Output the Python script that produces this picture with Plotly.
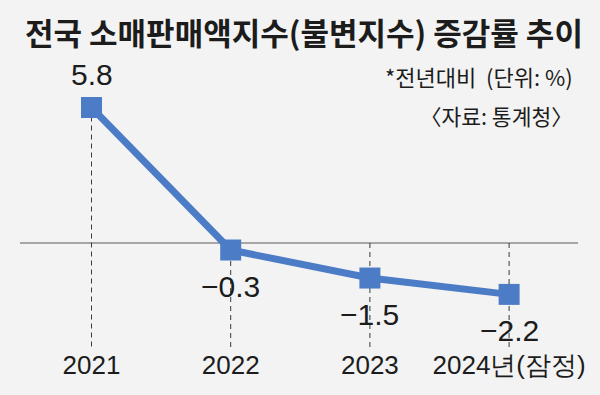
import plotly.graph_objects as go

# ---- data ----
years = ["2021", "2022", "2023", "2024"]
tick_labels = ["2021", "2022", "2023", "2024년(잠정)"]
growth = [5.8, -0.3, -1.5, -2.2]
value_labels = ["5.8", "−0.3", "−1.5", "−2.2"]

title_text = "전국 소매판매액지수(불변지수) 증감률 추이"
note_text = "*전년대비 \u00a0(단위: %)"
source_text = "〈자료: 통계청〉"

# ---- style ----
W, H = 600, 395
BOTTOM = 347          # px of plot-area bottom
BG = "#f3f3f3"
BLUE = "#4d7cc7"
INK = "#1c1c1c"
NUM_FONT = "Liberation Sans Narrow, Liberation Sans, Arial, sans-serif"
KR_FONT = "Noto Sans CJK KR, sans-serif"

x0_px, dx_px = 91.5, 139.2
zero_px, per_unit = 243.0, 23.36

xs = list(range(len(years)))
x_range = [-x0_px / dx_px, (W - x0_px) / dx_px]
y_range = [-(BOTTOM - zero_px) / per_unit, zero_px / per_unit]

def py(px):
    return (BOTTOM - px) / BOTTOM

fig = go.Figure()

# dashed guide lines
for x, v in zip(xs, growth):
    fig.add_shape(type="line", xref="x", yref="y", x0=x, x1=x,
                  y0=max(v, 0), y1=y_range[0], layer="below",
                  line=dict(color="#3a3a3a", width=1, dash="5px,4px"))

# zero line
fig.add_shape(type="line", xref="paper", yref="y", x0=20 / W, x1=578 / W,
              y0=0, y1=0, layer="below", line=dict(color="#5a5a5a", width=1.2))

fig.add_trace(go.Scatter(
    x=xs, y=growth, mode="lines+markers",
    line=dict(color=BLUE, width=7),
    marker=dict(symbol="square", size=21, color=BLUE),
    hoverinfo="skip", showlegend=False,
))

for x, v, lab in zip(xs, growth, value_labels):
    fig.add_annotation(x=x, y=v, text=lab, showarrow=False,
                       xref="x", yref="y", yshift=33 if v > 0 else -36,
                       font=dict(family=NUM_FONT, size=30, color=INK))

fig.add_annotation(text=f"<b>{title_text}</b>", xref="paper", yref="paper",
                   x=304 / W, y=py(31), xanchor="center", yanchor="middle",
                   showarrow=False, font=dict(family=KR_FONT, size=31, color=INK))
fig.add_annotation(text=note_text, xref="paper", yref="paper",
                   x=575 / W, y=py(76), xanchor="right", yanchor="middle",
                   showarrow=False, font=dict(family=KR_FONT, size=22, color=INK))
fig.add_annotation(text=source_text, xref="paper", yref="paper",
                   x=575 / W, y=py(115), xanchor="right", yanchor="middle",
                   showarrow=False, font=dict(family=KR_FONT, size=21.5, color=INK))

fig.update_layout(
    width=W, height=H,
    margin=dict(l=0, r=0, t=0, b=H - BOTTOM, pad=0),
    paper_bgcolor=BG, plot_bgcolor=BG,
    xaxis=dict(range=x_range, tickvals=xs, ticktext=tick_labels,
               showgrid=False, zeroline=False, showline=False, ticks="",
               automargin=False, tickfont=dict(family=NUM_FONT, size=26, color=INK)),
    yaxis=dict(range=y_range, showgrid=False, zeroline=False, showline=False,
               showticklabels=False, ticks="", automargin=False),
)

fig.write_html("out.html", config={"displayModeBar": False},
               post_script="document.body.style.margin='0';document.body.style.background='#f3f3f3';")
